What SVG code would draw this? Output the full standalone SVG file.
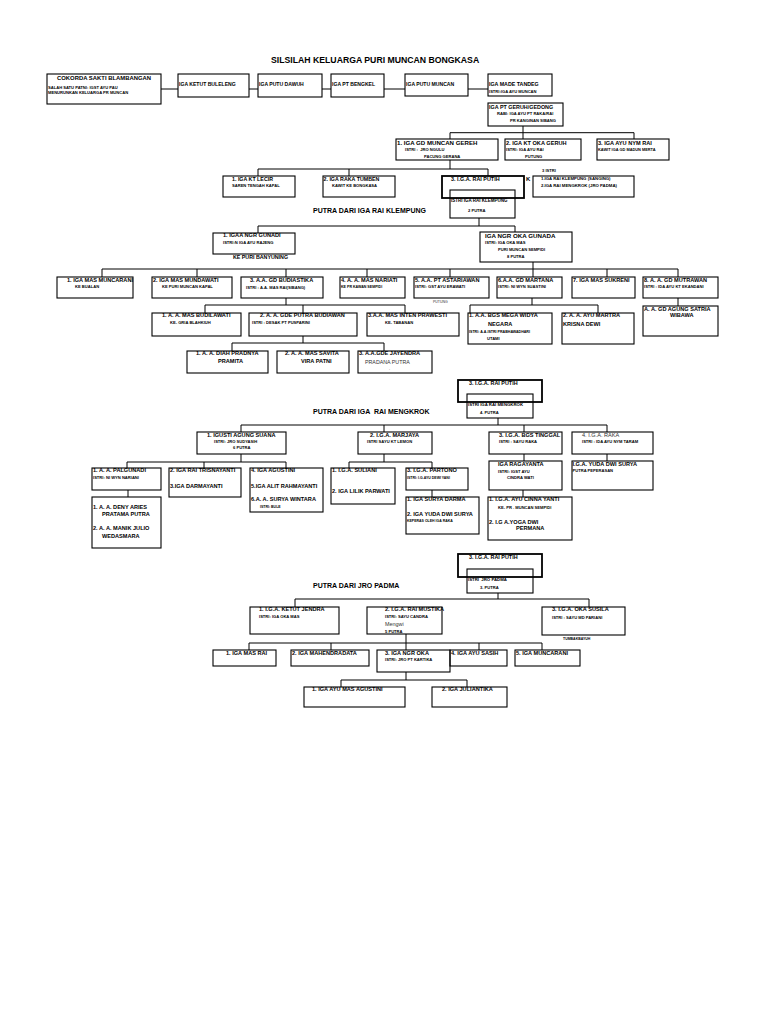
<svg xmlns="http://www.w3.org/2000/svg" width="768" height="1024" viewBox="0 0 768 1024">
<style>
text { font-family: "Liberation Sans", Arial, sans-serif; font-weight: bold; font-size: 5.6px; fill: #000; }
.s { font-size: 4.1px; }
.xs { font-size: 3.5px; }
.ttl { font-size: 8.7px; }
.hd { font-size: 7px; }
.r { font-weight: normal; fill: #333; }
.pre { white-space: pre; }
.b { fill: none; stroke: #000; stroke-width: 1.1; }
.bt { fill: none; stroke: #000; stroke-width: 1.8; }
#connectors path { fill: none; stroke: #000; stroke-width: 1; }
</style>
<rect width="768" height="1024" fill="#fff"/>

<text class="ttl" x="271" y="63">SILSILAH KELUARGA PURI MUNCAN BONGKASA</text>
<text class="hd" x="313" y="213">PUTRA DARI IGA RAI KLEMPUNG</text>
<text class="hd pre" x="313" y="414">PUTRA DARI IGA  RAI MENGKROK</text>
<text class="hd" x="313" y="587.5">PUTRA DARI JRO PADMA</text>

<g id="connectors">
  <path d="M161 89H178M249 89H258M322 89H331M384 89H405M468 89H488"/>
  <path d="M523 126V132.7M450 139V132.7H634V139M523 132.7V139"/>
  <path d="M450 160V169M258 176V169H488V176M349 169V176"/>
  <path d="M479 218V226M258 233V226H515V232"/>
  <path d="M533 262V269M102 277V269H678V277M197 269V277M286 269V277M367 269V277M450 269V277M533 269V277M607 269V277"/>
  <path d="M286 298V305M205 313V305H405V313M303 305V313"/>
  <path d="M532 298V305M470 313V305H598V313"/>
  <path d="M678 298V306"/>
  <path d="M303 336V343M232 351V343H384V351"/>
  <path d="M498 418V425M241 432V425H607V432M384 425V432M524 425V432"/>
  <path d="M241 454V462M127 468V462H286V468M204 462V468"/>
  <path d="M128 490V497"/>
  <path d="M384 454V462M349 468V462H432V468"/>
  <path d="M432 490V497"/>
  <path d="M524 454V461M523 490V497"/>
  <path d="M607 454V461"/>
  <path d="M498 593V599M295 607V599H589V607"/>
  <path d="M406 634V650M249 650V643H542V650M331 643V650M479 643V650"/>
  <path d="M406 672V680M341 687V680H467V687"/>
</g>

<g id="n-cokorda">
  <rect class="b" x="47" y="74" width="114" height="30"/>
  <text x="57" y="79.5" style="font-size:5.9px">COKORDA SAKTI BLAMBANGAN</text>
  <text class="s" x="48" y="88.5">SALAH SATU PATNI: IGST AYU PAU</text>
  <text class="s" x="48" y="93.5">MENURUNKAN KELUARGA PR MUNCAN</text>
</g>
<g id="n-buleleng">
  <rect class="b" x="178" y="74" width="71" height="23"/>
  <text x="179" y="86" style="font-size:5.1px">IGA KETUT BULELENG</text>
</g>
<g id="n-dawuh">
  <rect class="b" x="258" y="74" width="64" height="23"/>
  <text x="259" y="86" style="font-size:5.1px">IGA PUTU DAWUH</text>
</g>
<g id="n-bengkel">
  <rect class="b" x="331" y="74" width="53" height="23"/>
  <text x="332" y="86" style="font-size:5.1px">IGA PT BENGKEL</text>
</g>
<g id="n-putu-muncan">
  <rect class="b" x="405" y="74" width="63" height="22"/>
  <text x="406" y="85.5" style="font-size:5.1px">IGA PUTU MUNCAN</text>
</g>
<g id="n-tandeg">
  <rect class="b" x="488" y="74" width="64" height="22"/>
  <text x="489" y="85.5" style="font-size:5.3px">IGA MADE TANDEG</text>
  <text class="s" x="489" y="92.5">ISTRI:IGA AYU MUNCAN</text>
</g>
<g id="n-geruh">
  <rect class="b" x="488" y="103" width="75" height="23"/>
  <text x="489" y="108.5" style="font-size:5.4px">IGA PT GERUH/GEDONG</text>
  <text class="s" x="497" y="115">RABI: IGA AYU PT RAKA/RAI</text>
  <text class="s" x="510" y="121.5">PR KANGINAN SIBANG</text>
</g>
<g id="n-gereh">
  <rect class="b" x="396" y="139" width="102" height="21"/>
  <text x="397" y="144.5" style="font-size:6.1px">1. IGA GD MUNCAN GEREH</text>
  <text class="s pre" x="405" y="150.5">ISTRI :  JRO NGULU</text>
  <text class="s" x="424" y="157.5">PACUNG GERANA</text>
</g>
<g id="n-oka-geruh">
  <rect class="b" x="505" y="139" width="76" height="21"/>
  <text x="506" y="144.5">2. IGA KT OKA GERUH</text>
  <text class="s" x="506" y="150.5">ISTRI: IGA AYU RAI</text>
  <text class="s" x="525" y="157.5">PUTUNG</text>
</g>
<g id="n-ayu-nym-rai">
  <rect class="b" x="597" y="139" width="72" height="21"/>
  <text x="598" y="144.5">3. IGA AYU NYM RAI</text>
  <text class="s" x="598" y="150.5" style="font-size:3.9px">KAWIT IGA GD MADUN MERTA</text>
</g>
<g id="n-lecir">
  <rect class="b" x="223" y="176" width="72" height="21"/>
  <text x="232" y="180.5" style="font-size:5.3px">1. IGA KT LECIR</text>
  <text class="s" x="232" y="186.5">SAREN TENGAH KAPAL</text>
</g>
<g id="n-tumben">
  <rect class="b" x="323" y="176" width="72" height="21"/>
  <text x="323.5" y="180.5" style="font-size:5.3px">2. IGA RAKA TUMBEN</text>
  <text class="s" x="332" y="186.5">KAWIT KE BONGKASA</text>
</g>
<g id="n-rai-putih-1">
  <rect class="b" x="450" y="190" width="65" height="28"/>
  <rect class="bt" x="442" y="176" width="82" height="22"/>
  <text x="451" y="181" style="font-size:5.4px">3. I.G.A. RAI PUTIH</text>
  <text x="451" y="202" style="font-size:4.5px">ISTRI IGA RAI KLEMPUNG</text>
  <text class="s" x="468" y="211.5">2 PUTRA</text>
  <text x="526" y="181" style="font-size:6px">K</text>
</g>
<g id="n-3-istri">
  <text class="s" x="542" y="172">3 ISTRI</text>
  <rect class="b" x="533" y="176" width="101" height="21"/>
  <text class="s" x="541" y="179.5" style="font-size:4.3px">1.IGA RAI KLEMPUNG (SANGING)</text>
  <text class="s" x="541" y="186.5" style="font-size:4.3px">2.IGA RAI MENGKROK (JRO PADMA)</text>
</g>
<g id="n-gunadi">
  <rect class="b" x="213" y="233" width="82" height="21"/>
  <text x="223" y="237">1. IGAA NGR GUNADI</text>
  <text class="s" x="223" y="243.5">ISTRI:N IGA AYU RAJENG</text>
  <text x="233" y="259" style="font-size:5.3px">KE PURI BANYUNING</text>
</g>
<g id="n-oka-gunada">
  <rect class="b" x="480" y="232" width="92" height="30"/>
  <text x="485" y="237.5" style="font-size:6.2px">IGA NGR OKA GUNADA</text>
  <text class="s" x="485" y="243.5">ISTRI: IGA OKA MAS</text>
  <text class="s" x="498" y="251">PURI MUNCAN SEMPIDI</text>
  <text class="s" x="507" y="258">8 PUTRA</text>
</g>
<g id="n-muncarani-1">
  <rect class="b" x="57" y="277" width="76" height="21"/>
  <text x="67" y="281.5">1. IGA MAS MUNCARANI</text>
  <text class="s" x="75" y="287.5">KE BUALAN</text>
</g>
<g id="n-mundawati">
  <rect class="b" x="152" y="277" width="80" height="21"/>
  <text x="153" y="281.5">2. IGA MAS MUNDAWATI</text>
  <text class="s" x="162" y="287.5">KE PURI MUNCAN KAPAL</text>
</g>
<g id="n-budiastika">
  <rect class="b" x="241" y="277" width="82" height="21"/>
  <text x="250" y="281.5">3. A.A. GD BUDIASTIKA</text>
  <text class="s" x="246" y="288.5">ISTRI : A.A. MAS RAI(SIBANG)</text>
</g>
<g id="n-nariati">
  <rect class="b" x="340" y="277" width="65" height="21"/>
  <text x="341" y="281.5">4. A. A. MAS NARIATI</text>
  <text class="s" x="341" y="287.5" style="font-size:3.6px">KE PR KAWAN SEMPIDI</text>
</g>
<g id="n-astariawan">
  <rect class="b" x="414" y="277" width="75" height="21"/>
  <text x="415" y="281.5">5. A.A. PT ASTARIAWAN</text>
  <text class="s" x="415" y="287.5">ISTRI: GST AYU ERAWATI</text>
  <text class="xs r" x="433" y="302.5">PUTUNG</text>
</g>
<g id="n-martana">
  <rect class="b" x="497" y="277" width="65" height="21"/>
  <text x="498" y="281.5">6.A.A. GD MARTANA</text>
  <text class="s" x="498" y="287.5">ISTRI: NI WYN SUASTINI</text>
</g>
<g id="n-sukreni">
  <rect class="b" x="572" y="277" width="63" height="21"/>
  <text x="573" y="281.5">7. IGA MAS SUKRENI</text>
</g>
<g id="n-mutrawan">
  <rect class="b" x="643" y="277" width="75" height="21"/>
  <text x="644" y="281.5">8. A. A. GD MUTRAWAN</text>
  <text class="s" x="644" y="287.5">ISTRI : IDA AYU KT EKANDANI</text>
</g>
<g id="n-budilawati">
  <rect class="b" x="152" y="313" width="89" height="23"/>
  <text x="162" y="317">1. A. A. MAS BUDILAWATI</text>
  <text class="s" x="170" y="323.5">KE- GRIA BLAHKIUH</text>
</g>
<g id="n-budiawan">
  <rect class="b" x="249" y="313" width="108" height="23"/>
  <text x="260" y="317">2. A. A. GDE PUTRA BUDIAWAN</text>
  <text class="s" x="252" y="323.5">ISTRI : DESAK PT PUSPARINI</text>
</g>
<g id="n-prawesti">
  <rect class="b" x="367" y="313" width="92" height="23"/>
  <text x="368" y="317">3.A.A. MAS INTEN PRAWESTI</text>
  <text class="s" x="385" y="323.5">KE- TABANAN</text>
</g>
<g id="n-mega-widya">
  <rect class="b" x="468" y="313" width="84" height="31"/>
  <text x="469" y="317">1. A.A. BGS MEGA WIDYA</text>
  <text x="488" y="325.5">NEGARA</text>
  <text class="s" x="469" y="333" style="font-size:3.6px">ISTRI: A.A.ISTRI PRABHAWADHARI</text>
  <text class="s" x="487" y="340">UTAMI</text>
</g>
<g id="n-martra">
  <rect class="b" x="562" y="313" width="72" height="31"/>
  <text x="563" y="317">2. A. A. AYU MARTRA</text>
  <text x="563" y="325.5">KRISNA DEWI</text>
</g>
<g id="n-satria">
  <rect class="b" x="643" y="306" width="75" height="30"/>
  <text x="644" y="310.5">A. A. GD AGUNG SATRIA</text>
  <text x="670" y="317">WIBAWA</text>
</g>
<g id="n-pradnya">
  <rect class="b" x="187" y="351" width="81" height="22"/>
  <text x="196" y="354.5">1. A. A. DIAH PRADNYA</text>
  <text x="218" y="363">PRAMITA</text>
</g>
<g id="n-savita">
  <rect class="b" x="277" y="351" width="72" height="22"/>
  <text x="285" y="354.5">2. A. A. MAS SAVITA</text>
  <text x="301" y="363">VIRA PATNI</text>
</g>
<g id="n-jayendra">
  <rect class="b" x="358" y="351" width="74" height="22"/>
  <text x="359" y="354.5">3. A.A.GDE JAYENDRA</text>
  <text class="r" x="365" y="363.5" style="font-size:5.3px">PRADANA PUTRA</text>
  <text class="r" x="389" y="370" style="font-size:4px">.</text>
</g>

<g id="n-rai-putih-2">
  <rect class="b" x="467" y="394" width="66" height="24"/>
  <rect class="bt" x="458" y="380" width="84" height="22"/>
  <text x="469" y="384.5" style="font-size:5.4px">3. I.G.A. RAI PUTIH</text>
  <text x="468" y="406" style="font-size:4.3px">ISTRI IGA RAI MENGKROK</text>
  <text class="s" x="480" y="413.5">4. PUTRA</text>
</g>
<g id="n-suana">
  <rect class="b" x="197" y="432" width="89" height="22"/>
  <text x="207" y="436.5">1. IGUSTI AGUNG SUANA</text>
  <text class="s" x="214" y="442.5">ISTRI: JRO SUDYASIH</text>
  <text class="s" x="233" y="449">6 PUTRA</text>
</g>
<g id="n-marjaya">
  <rect class="b" x="358" y="432" width="74" height="22"/>
  <text x="370" y="436.5">2. I.G.A. MARJAYA</text>
  <text class="s" x="367" y="442.5">ISTRI SAYU KT LEMON</text>
</g>
<g id="n-tinggal">
  <rect class="b" x="489" y="432" width="73" height="22"/>
  <text x="499" y="436.5">3. I.G.A. BGS TINGGAL</text>
  <text class="s" x="499" y="442.5">ISTRI : SAYU RAKA</text>
</g>
<g id="n-raka">
  <rect class="b" x="572" y="432" width="81" height="22"/>
  <text class="r" x="582" y="436.5">4. I.G.A. RAKA</text>
  <text class="s" x="582" y="442.5">ISTRI : IDA AYU NYM TARAM</text>
</g>
<g id="n-palgunadi">
  <rect class="b" x="92" y="468" width="69" height="22"/>
  <text x="93" y="472">1. A. A. PALGUNADI</text>
  <text class="s" x="93" y="478.5">ISTRI: NI WYN NARIANI</text>
</g>
<g id="n-deny-manik">
  <rect class="b" x="92" y="497" width="69" height="51"/>
  <text x="93" y="508.5">1. A. A. DENY ARIES</text>
  <text x="102" y="516">PRATAMA PUTRA</text>
  <text x="93" y="530">2. A. A. MANIK JULIO</text>
  <text x="102" y="537.5">WEDASMARA</text>
</g>
<g id="n-trisnayanti">
  <rect class="b" x="169" y="468" width="72" height="29"/>
  <text x="170" y="472">2. IGA RAI TRISNAYANTI</text>
  <text x="170" y="488">3.IGA DARMAYANTI</text>
</g>
<g id="n-agustini">
  <rect class="b" x="250" y="468" width="73" height="44"/>
  <text x="251" y="472">4. IGA AGUSTINI</text>
  <text x="251" y="488">5.IGA ALIT RAHMAYANTI</text>
  <text x="251" y="501">6.A. A. SURYA WINTARA</text>
  <text class="xs" x="260" y="507.5">ISTRI: BULE</text>
</g>
<g id="n-suliani">
  <rect class="b" x="331" y="468" width="64" height="36"/>
  <text x="332" y="472">1. I.G.A. SULIANI</text>
  <text x="332" y="493">2. IGA LILIK PARWATI</text>
</g>
<g id="n-partono">
  <rect class="b" x="406" y="468" width="62" height="22"/>
  <text x="407" y="472">3. I.G.A. PARTONO</text>
  <text class="xs" x="407" y="478.5">ISTRI: I.G.AYU DEWI YANI</text>
</g>
<g id="n-surya-darma">
  <rect class="b" x="406" y="497" width="73" height="37"/>
  <text x="407" y="501">1. IGA SURYA DARMA</text>
  <text x="407" y="515.5">2. IGA YUDA DWI SURYA</text>
  <text class="xs" x="407" y="521.5">KEPERAS OLEH IGA RAKA</text>
</g>
<g id="n-ragayanta">
  <rect class="b" x="489" y="461" width="73" height="29"/>
  <text x="498" y="466">IGA RAGAYANTA</text>
  <text class="s" x="498" y="472.5">ISTRI: IGST AYU</text>
  <text class="s" x="507" y="479">CINDRA WATI</text>
</g>
<g id="n-cinna-yanti">
  <rect class="b" x="488" y="497" width="84" height="43"/>
  <text x="489" y="501">1. I.G.A. AYU CINNA YANTI</text>
  <text class="s" x="498" y="508.5">KE- PR . MUNCAN SEMPIDI</text>
  <text x="489" y="524">2. I.G A.YOGA DWI</text>
  <text x="516" y="530">PERMANA</text>
</g>
<g id="n-yuda-dwi-surya">
  <rect class="b" x="572" y="461" width="81" height="29"/>
  <text x="572.5" y="466">I.G.A. YUDA DWI SURYA</text>
  <text class="s" x="572.5" y="472">PUTRA PEPERASAN</text>
</g>

<g id="n-rai-putih-3">
  <rect class="b" x="467" y="569" width="66" height="24"/>
  <rect class="bt" x="458" y="554" width="84" height="23"/>
  <text x="469" y="558.5" style="font-size:5.4px">3. I.G.A. RAI PUTIH</text>
  <text class="pre" x="468" y="581" style="font-size:4.3px">ISTRI  JRO PADMA</text>
  <text class="s" x="480" y="588.5">3. PUTRA</text>
</g>
<g id="n-jendra">
  <rect class="b" x="250" y="607" width="89" height="27"/>
  <text x="259" y="611">1. I.G.A. KETUT JENDRA</text>
  <text class="s" x="259" y="618">ISTRI: IGA OKA MAS</text>
</g>
<g id="n-mustika">
  <rect class="b" x="367" y="607" width="75" height="27"/>
  <text x="385" y="611">2. I.G.A. RAI MUSTIKA</text>
  <text class="s" x="385" y="618">ISTRI: SAYU CANDRA</text>
  <text class="r" x="385" y="625.5" style="font-size:5.4px">Mengwi</text>
  <text class="s" x="385" y="632.5">5 PUTRA</text>
</g>
<g id="n-susila">
  <rect class="b" x="542" y="607" width="83" height="28"/>
  <text x="552" y="611">3. I.G.A. OKA SUSILA</text>
  <text class="s" x="552" y="619">ISTRI : SAYU MD PARIANI</text>
  <text class="xs" x="563" y="639.5">TUMBAKBAYUH</text>
</g>
<g id="n-mas-rai">
  <rect class="b" x="213" y="650" width="63" height="16"/>
  <text x="226" y="654.5">1. IGA MAS RAI</text>
</g>
<g id="n-mahendradata">
  <rect class="b" x="291" y="650" width="78" height="16"/>
  <text x="292" y="654.5">2. IGA MAHENDRADATA</text>
</g>
<g id="n-ngr-oka">
  <rect class="b" x="377" y="650" width="73" height="22"/>
  <text x="385" y="654.5">3. IGA NGR OKA</text>
  <text class="s" x="385" y="661">ISTRI: JRO PT KARTIKA</text>
</g>
<g id="n-ayu-sasih">
  <rect class="b" x="450" y="650" width="57" height="16"/>
  <text x="451" y="654.5">4. IGA AYU SASIH</text>
</g>
<g id="n-muncarani-2">
  <rect class="b" x="515" y="650" width="65" height="16"/>
  <text x="516" y="654.5">5. IGA MUNCARANI</text>
</g>
<g id="n-mas-agustini">
  <rect class="b" x="304" y="687" width="101" height="20"/>
  <text x="312" y="691">1. IGA AYU MAS AGUSTINI</text>
</g>
<g id="n-juliantika">
  <rect class="b" x="432" y="687" width="75" height="20"/>
  <text x="442" y="691">2. IGA JULIANTIKA</text>
</g>
</svg>
